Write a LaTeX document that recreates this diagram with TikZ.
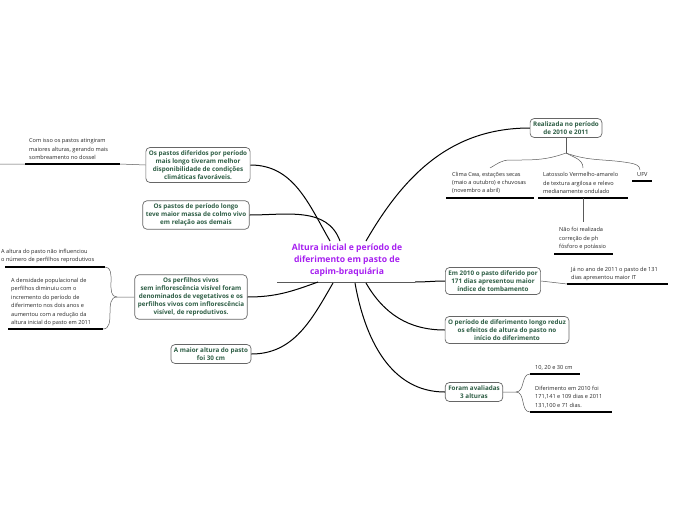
\documentclass[tikz,border=0pt]{standalone}
\usepackage{fontspec}
\setmainfont{Open Sans}
\definecolor{ng}{HTML}{2E5E45}
\definecolor{cp}{HTML}{A61EF0}
\begin{document}
\begin{tikzpicture}[x=1pt,y=-1pt,
  box/.style={draw=gray!80!black,rounded corners=4pt,line width=0.7pt,fill=white,align=center,
    font=\fontsize{6.3}{8}\selectfont\bfseries,text=ng,inner sep=3pt},
  leaf/.style={align=left,font=\fontsize{5.6}{8.4}\selectfont,text=black!85,inner sep=1pt,anchor=south west},
  ul/.style={line width=1.3pt,black},
  thick/.style={line width=1pt,black},
  thin/.style={line width=0.5pt,gray!70!black}]
\useasboundingbox (0,0) rectangle (697,520);
% center
\node[align=center,font=\fontsize{8.6}{12}\selectfont\bfseries,text=cp] (c) at (347,260) {Altura inicial e período de\\diferimento em pasto de\\capim-braquiária};
\coordinate (cl) at (277,282); \coordinate (cr) at (415,282);
\draw[thin] (cl) -- (cr);
% nodes
\node[box] (a) at (198,165) {Os pastos diferidos por período\\mais longo tiveram melhor\\disponibilidade de condições\\climáticas favoráveis.};
\node[box] (b) at (196,215) {Os pastos de período longo\\teve maior massa de colmo vivo\\em relação aos demais};
\node[box] (cc) at (191,297) {Os perfilhos vivos\\sem inflorescência visível foram\\denominados de vegetativos e os\\perfilhos vivos com inflorescência\\visível, de reprodutivos.};
\node[box] (d) at (211,354) {A maior altura do pasto\\foi 30 cm};
\node[box] (e) at (566,128) {Realizada no período\\de 2010 e 2011};
\node[box] (f) at (493,281) {Em 2010 o pasto diferido por\\171 dias apresentou maior\\índice de tombamento};
\node[box] (g) at (507,330) {O período de diferimento longo reduz\\os efeitos de altura do pasto no\\início do diferimento};
\node[box] (h) at (474,392) {Foram avaliadas\\3 alturas};
% connectors center
\draw[thick] (330,241) to[out=120,in=0] (a.east);
\draw[thick] (340,241) to[out=110,in=0] (b.east);
\draw[thick] (318,282) to[out=200,in=0] (cc.east);
\draw[thick] (333,283) to[out=240,in=0] (d.east);
\draw[thick] (366,241) to[out=60,in=180] (e.west);
\draw[thick] (cr) to[out=0,in=180] (f.west);
\draw[thick] (366,283) to[out=300,in=180] (g.west);
\draw[thick] (355,283) to[out=280,in=180] (h.west);
% leaves left
\node[leaf] (l1) at (28,161) {Com isso os pastos atingiram\\maiores alturas, gerando mais\\ sombreamento no dossel};
\draw[ul] (25,164) -- (120,164);
\draw[thin] (a.west) -- (120,164) (25,164) -- (0,164);
\node[leaf] (l2) at (0,264) {A altura do pasto não influenciou\\o número de perfilhos reprodutivos};
\draw[ul] (5,267) -- (105,267);
\node[leaf] (l3) at (10,327) {A densidade populacional de\\perfilhos diminuiu com o\\incremento do período de\\diferimento nos dois anos e\\aumentou com a redução da\\altura inicial do pasto em 2011};
\draw[ul] (8,329) -- (103,329);
\draw[thin] (cc.west) -- (117,297) to[out=180,in=0] (105,267);
\draw[thin] (117,297) to[out=180,in=0] (103,329);
% leaves E
\node[leaf] (e1) at (451,195) {Clima Cwa, estações secas\\(maio a outubro) e chuvosas\\(novembro a abril)};
\draw[ul] (446,198) -- (534,198);
\node[leaf] (e2) at (542,195) {Latossolo Vermelho-amarelo\\de textura argilosa e relevo\\medianamente ondulado};
\draw[ul] (538,198) -- (628,198);
\node[leaf] (e3) at (636,178) {UFV};
\draw[ul] (632,181) -- (652,181);
\draw[thin] (e.south) -- (566,153);
\draw[thin] (566,153) to[out=200,in=0] (510,160) to[out=180,in=30] (490,168);
\draw[thin] (566,153) to[out=330,in=90] (583,168);
\draw[thin] (566,153) to[out=340,in=170] (630,163) to[out=-10,in=90] (640,170);
\node[leaf] (e4) at (558,251) {Não foi realizada\\correção de ph\\fósforo e potássio};
\draw[ul] (554,254) -- (613,254);
\draw[thin] (583,198) -- (583,222);
% leaf F
\node[leaf] (f1) at (570,282) {Já no ano de 2011 o pasto de 131\\dias apresentou maior IT};
\draw[ul] (567,284) -- (668,284);
\draw[thin] (f.east) -- (567,284);
% leaves H
\node[leaf] (h1) at (534,371) {10, 20 e 30 cm};
\draw[ul] (530,374) -- (580,374);
\node[leaf] (h2) at (534,409) {Diferimento em 2010 foi\\171,141 e 109 dias e 2011\\131,100 e 71 dias.};
\draw[ul] (530,412) -- (612,412);
\draw[thin] (h.east) -- (516,392) to[out=0,in=180] (530,374);
\draw[thin] (516,392) to[out=0,in=180] (530,412);
\end{tikzpicture}
\end{document}
